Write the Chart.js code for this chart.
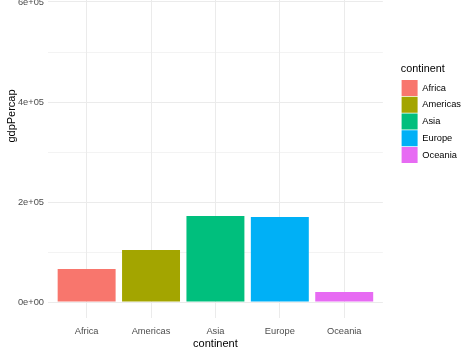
<!DOCTYPE html>
<html>
<head>
<meta charset="utf-8">
<script src="https://cdn.jsdelivr.net/npm/chart.js@4/dist/chart.umd.min.js"></script>
<style>
    html, body { margin: 0; padding: 0; background: #fff; overflow: hidden; }
    body { width: 474px; height: 355px; position: relative; }
    /* the original plot is cropped at the top, so the canvas sticks out above the page */
    #wrap { position: absolute; left: 0; top: -125px; width: 474px; height: 480px; }
</style>
</head>
<body>
<div id="wrap"><canvas id="bar-chart" width="474" height="480"></canvas></div>
<script>
    "use strict";

    var continents = ["Africa", "Americas", "Asia", "Europe", "Oceania"];
    var gdpPercap = [66000, 104000, 172000, 170000, 20000];
    var colors = ["#F8766D", "#A3A500", "#00BF7D", "#00B0F6", "#E76BF3"];
    var yTicks = [0, 100000, 200000, 300000, 400000, 500000, 600000, 700000];
    var yLabels = { 0: "0e+00", 200000: "2e+05", 400000: "4e+05", 600000: "6e+05" };

    var points = continents.map(function (c, i) {
        return { x: i + 1, y: gdpPercap[i] };
    });

    var gridColor = "#ebebeb";
    var tickFont = { family: "'Liberation Sans', Arial, sans-serif", size: 9.3 };
    var titleFont = { family: "'Liberation Sans', Arial, sans-serif", size: 11 };

    // Bar Chart
    var ctx = document.getElementById("bar-chart").getContext("2d");
    var myChart = new Chart(ctx, {
        type: "bar",
        data: {
            datasets: [{
                label: "gdpPercap",
                data: points,
                backgroundColor: colors,
                borderWidth: 0,
                barPercentage: 0.9,
                categoryPercentage: 1.0
            }]
        },
        options: {
            responsive: false,
            animation: false,
            devicePixelRatio: 1,
            layout: {
                autoPadding: false,
                padding: { top: 39, left: 0, right: 3, bottom: 0 }
            },
            plugins: {
                tooltip: { enabled: false },
                legend: {
                    position: "right",
                    align: "start",
                    fullSize: false,
                    title: {
                        display: true,
                        text: "continent",
                        position: "start",
                        color: "#000",
                        font: { family: titleFont.family, size: 10.8 },
                        padding: { top: 149.6, bottom: 2.7 }
                    },
                    labels: {
                        boxWidth: 16,
                        boxHeight: 16,
                        padding: 0.75,
                        color: "#1a1a1a",
                        font: tickFont,
                        generateLabels: function () {
                            return continents.map(function (c, i) {
                                return {
                                    text: c,
                                    fillStyle: colors[i],
                                    strokeStyle: colors[i],
                                    lineWidth: 0,
                                    hidden: false,
                                    index: i
                                };
                            });
                        }
                    },
                    onClick: function () {}
                }
            },
            scales: {
                x: {
                    type: "linear",
                    min: 0.4,
                    max: 5.6,
                    offset: false,
                    afterBuildTicks: function (scale) {
                        scale.ticks = continents.map(function (c, i) { return { value: i + 1 }; });
                    },
                    afterFit: function (scale) { scale.height = 37; },
                    grid: { color: gridColor, lineWidth: 1, drawTicks: false, offset: false },
                    border: { display: false },
                    ticks: {
                        color: "#4d4d4d",
                        font: tickFont,
                        padding: 8,
                        maxRotation: 0,
                        autoSkip: false,
                        callback: function (v) { return continents[v - 1]; }
                    },
                    title: {
                        display: true,
                        text: "continent",
                        color: "#000",
                        font: titleFont,
                        padding: { top: 0, bottom: 4.4 }
                    }
                },
                y: {
                    min: -32000,
                    max: 776000,
                    afterBuildTicks: function (scale) {
                        scale.ticks = yTicks.map(function (v) { return { value: v }; });
                    },
                    afterFit: function (scale) { scale.width = 48; },
                    grid: {
                        color: gridColor,
                        drawTicks: false,
                        lineWidth: function (c) {
                            return (c.tick && c.tick.value % 200000 === 0) ? 1 : 0.6;
                        }
                    },
                    border: { display: false },
                    ticks: {
                        color: "#4d4d4d",
                        font: tickFont,
                        padding: 4,
                        autoSkip: false,
                        callback: function (v) { return yLabels[v] || ""; }
                    },
                    title: {
                        display: true,
                        text: "gdpPercap",
                        color: "#000",
                        font: titleFont,
                        padding: { top: 5.4, bottom: 0 }
                    }
                },
                // empty right scale, only keeps a gap between the panel and the legend
                gap: {
                    type: "linear",
                    position: "right",
                    grid: { display: false },
                    border: { display: false },
                    ticks: { display: false },
                    afterFit: function (scale) { scale.width = 18; }
                }
            }
        }
    });
</script>
</body>
</html>
